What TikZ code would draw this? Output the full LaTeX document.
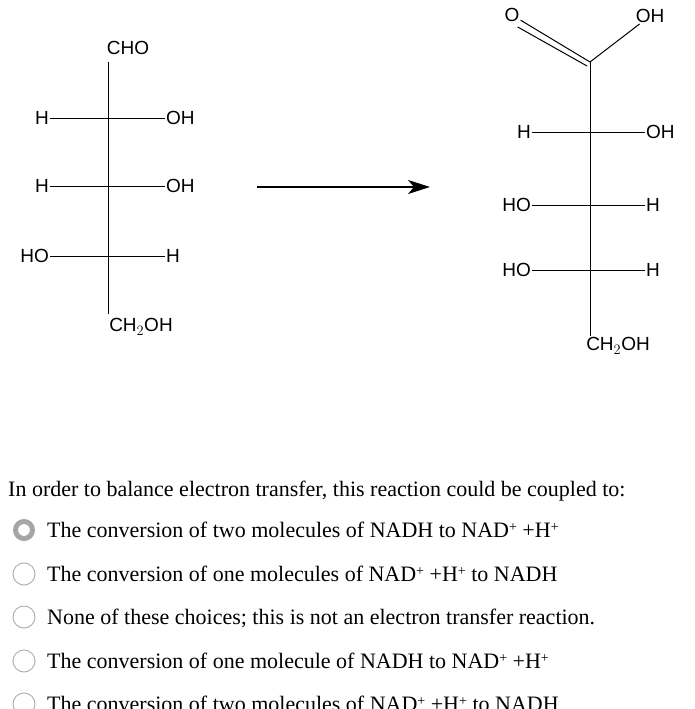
\documentclass[tikz,border=0pt]{standalone}
\usepackage{fontspec}
\setmainfont{Liberation Serif}
\newfontfamily\chem{Liberation Sans}
\usetikzlibrary{arrows.meta}
\newcommand{\sps}{\raisebox{0.55ex}{\fontsize{14}{14}\selectfont+}}
\begin{document}
\begin{tikzpicture}[x=1pt,y=-1pt,
  lab/.style={font=\chem\fontsize{19}{21}\selectfont,inner sep=1pt},
  bond/.style={line width=1pt},
  txt/.style={font=\fontsize{22}{26}\selectfont,anchor=base west,inner sep=0pt},
  radio/.style={draw=gray!60,line width=1pt,circle,minimum size=22pt,inner sep=0pt},
  radiosel/.style={draw=gray!70,line width=5pt,circle,minimum size=17pt,inner sep=0pt,fill=white}]
\useasboundingbox (0,0) rectangle (694,709);
% left molecule
\node[lab] (cho) at (128,48) {CHO};
\coordinate (lt) at (108,62);
\node[lab] (ch2a) at (141,327) {CH$_2$OH};
\coordinate (lb) at (108,314);
\draw[bond] (lt) -- (lb);
\node[lab,anchor=east] (h1) at (50,118) {H};
\node[lab,anchor=west] (oh1) at (165,118) {OH};
\draw[bond] (h1) -- (oh1);
\node[lab,anchor=east] (h2) at (50,186) {H};
\node[lab,anchor=west] (oh2) at (165,186) {OH};
\draw[bond] (h2) -- (oh2);
\node[lab,anchor=east] (ho3) at (50,256) {HO};
\node[lab,anchor=west] (h3) at (165,256) {H};
\draw[bond] (ho3) -- (h3);
% arrow
\coordinate (a1) at (257,187);
\coordinate (a2) at (430,187);
\draw[line width=1.3pt,-{Stealth[length=22pt,width=14pt,inset=6pt]}] (a1) -- (a2);
% right molecule
\coordinate (c1) at (590,62);
\coordinate (rb) at (590,336);
\node[lab] (o) at (512,15) {O};
\node[lab] (ohr) at (650,16) {OH};
\draw[bond] (c1) -- (rb);
\draw[bond] (c1) -- (ohr);
\draw[bond] (c1) -- (o);
\draw[bond] ([xshift=-3pt,yshift=-4pt]c1) -- ([xshift=-3pt,yshift=-4pt]o.south east);
\node[lab] (ch2b) at (618,346) {CH$_2$OH};
\node[lab,anchor=east] (h4) at (532,132) {H};
\node[lab,anchor=west] (oh4) at (645,132) {OH};
\draw[bond] (h4) -- (oh4);
\node[lab,anchor=east] (ho5) at (532,205) {HO};
\node[lab,anchor=west] (h5) at (645,205) {H};
\draw[bond] (ho5) -- (h5);
\node[lab,anchor=east] (ho6) at (532,270) {HO};
\node[lab,anchor=west] (h6) at (645,270) {H};
\draw[bond] (ho6) -- (h6);
% question
\node[txt] (q) at (8,496) {In order to balance electron transfer, this reaction could be coupled to:};
\node[radiosel] (r1) at (24,530) {};
\node[txt] (t1) at (47,537) {The conversion of two molecules of NADH to NAD\sps{} +H\sps};
\node[radio] (r2) at (24,574) {};
\node[txt] (t2) at (47,581) {The conversion of one molecules of NAD\sps{} +H\sps{} to NADH};
\node[radio] (r3) at (24,617) {};
\node[txt] (t3) at (47,624) {None of these choices; this is not an electron transfer reaction.};
\node[radio] (r4) at (24,661) {};
\node[txt] (t4) at (47,668) {The conversion of one molecule of NADH to NAD\sps{} +H\sps};
\node[radio] (r5) at (24,704) {};
\node[txt] (t5) at (47,711) {The conversion of two molecules of NAD\sps{} +H\sps{} to NADH};
\end{tikzpicture}
\end{document}
